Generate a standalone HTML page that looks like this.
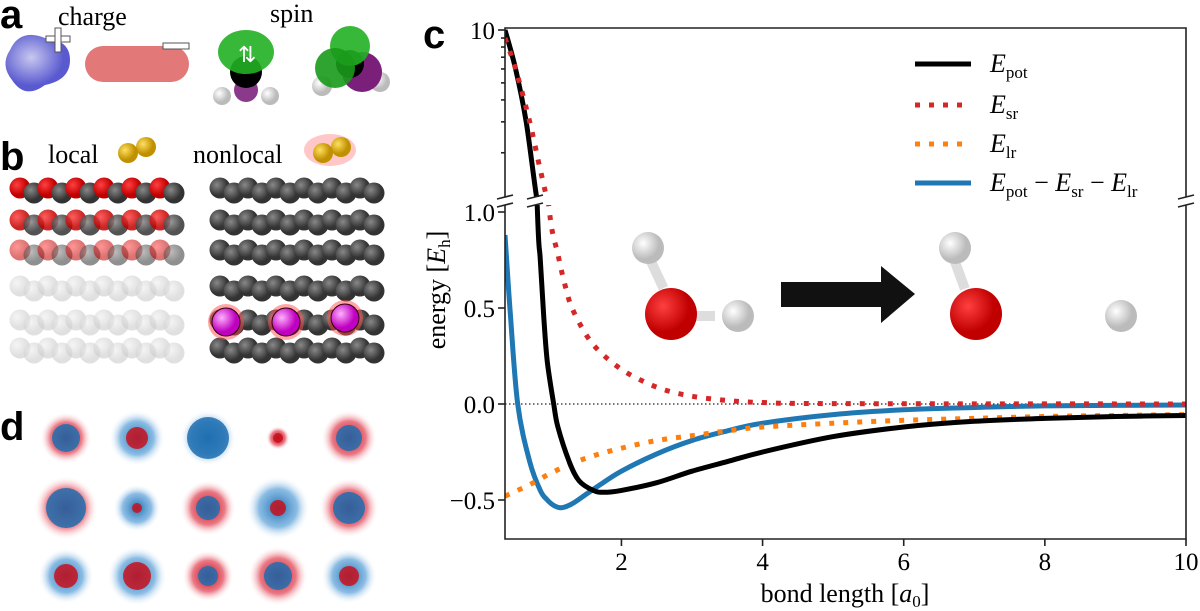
<!DOCTYPE html>
<html><head><meta charset="utf-8"><style>
html,body{margin:0;padding:0;background:#fff;width:1200px;height:611px;overflow:hidden}
svg{display:block}
.lbl{font-family:"Liberation Sans",sans-serif;font-weight:bold;font-size:40px}
</style></head><body>
<svg width="1200" height="611" viewBox="0 0 1200 611">
<defs>
 <radialGradient id="gBlue" cx="40%" cy="40%"><stop offset="0" stop-color="#c8c8f0"/><stop offset="1" stop-color="#5a5ad0"/></radialGradient>
 <radialGradient id="gGrey" cx="35%" cy="35%"><stop offset="0" stop-color="#888"/><stop offset="1" stop-color="#333"/></radialGradient>
 <radialGradient id="gLt" cx="35%" cy="35%"><stop offset="0" stop-color="#eee"/><stop offset="1" stop-color="#ccc"/></radialGradient>
 <radialGradient id="gRed" cx="35%" cy="35%"><stop offset="0" stop-color="#ff4040"/><stop offset="1" stop-color="#c00000"/></radialGradient>
 <radialGradient id="gWhite" cx="35%" cy="35%"><stop offset="0" stop-color="#fff"/><stop offset="1" stop-color="#bbb"/></radialGradient>
 <radialGradient id="gGold" cx="35%" cy="35%"><stop offset="0" stop-color="#ffe060"/><stop offset="1" stop-color="#c09000"/></radialGradient>
 <radialGradient id="gMag" cx="35%" cy="35%"><stop offset="0" stop-color="#ffb0ff"/><stop offset="1" stop-color="#c000c0"/></radialGradient>
 <radialGradient id="gB" ><stop offset="0" stop-color="#1f6fb0"/><stop offset="0.6" stop-color="#5aa0d8" stop-opacity="0.7"/><stop offset="1" stop-color="#fff" stop-opacity="0"/></radialGradient>
 <radialGradient id="gR" ><stop offset="0" stop-color="#c00010"/><stop offset="0.6" stop-color="#e04050" stop-opacity="0.7"/><stop offset="1" stop-color="#fff" stop-opacity="0"/></radialGradient>
 <clipPath id="clipLow"><rect x="505" y="205" width="681" height="334"/></clipPath>
 <clipPath id="clipUp"><rect x="505" y="28" width="681" height="169"/></clipPath>
</defs>

<!-- panel a -->
<text class="lbl" x="0" y="28">a</text>
<text font-family="Liberation Serif, serif" x="58" y="25" font-size="26">charge</text>
<text font-family="Liberation Serif, serif" x="270" y="22" font-size="26">spin</text>
<g>
 <path d="M10,50 Q20,28 45,38 Q70,40 70,60 Q70,80 45,85 Q25,100 12,80 Q0,65 10,50Z" fill="url(#gBlue)"/>
 <rect x="46" y="36" width="24" height="6" fill="#fff" stroke="#555"/><rect x="55" y="28" width="6" height="24" fill="#fff" stroke="#555"/>
</g>
<g>
 <rect x="85" y="46" width="104" height="36" rx="18" fill="#e27878"/>
 <rect x="163" y="43" width="26" height="6" fill="#fff" stroke="#555"/>
</g>
<g>
 <circle cx="222" cy="96" r="9" fill="url(#gWhite)"/><circle cx="270" cy="96" r="9" fill="url(#gWhite)"/>
 <circle cx="246" cy="90" r="12" fill="#8a3a8a"/>
 <circle cx="246" cy="72" r="16" fill="#000"/>
 <ellipse cx="246" cy="52" rx="28" ry="22" fill="#22b022" opacity="0.9"/>
 <text x="238" y="62" font-size="22" fill="#fff" font-family="DejaVu Sans, sans-serif">⇅</text>
</g>
<g>
 <circle cx="322" cy="86" r="10" fill="url(#gWhite)"/><circle cx="380" cy="82" r="10" fill="url(#gWhite)"/>
 <circle cx="362" cy="72" r="20" fill="#7a207a"/>
 <circle cx="350" cy="64" r="14" fill="#000"/>
 <circle cx="350" cy="46" r="20" fill="#22b022" opacity="0.9"/>
 <circle cx="335" cy="68" r="20" fill="#1a9a1a" opacity="0.9"/>
</g>

<!-- panel b -->
<text class="lbl" x="0" y="170">b</text>
<text font-family="Liberation Serif, serif" x="48" y="163" font-size="26">local</text>
<text font-family="Liberation Serif, serif" x="193" y="163" font-size="26">nonlocal</text>
<g><circle cx="146" cy="147" r="10" fill="url(#gGold)"/><circle cx="128" cy="153" r="10" fill="url(#gGold)"/></g>
<g><ellipse cx="330" cy="150" rx="26" ry="16" fill="#ff9090" opacity="0.5"/><circle cx="341" cy="147" r="10" fill="url(#gGold)"/><circle cx="323" cy="153" r="10" fill="url(#gGold)"/></g>
<g id="layers"></g>

<!-- panel d -->
<text class="lbl" x="0" y="440">d</text>
<g id="orbitals"></g>

<!-- panel c -->
<text class="lbl" x="423" y="48">c</text>
<g id="chart"></g>
</svg>
<script>
const NS='http://www.w3.org/2000/svg';
const SERIF='Liberation Serif, serif';
function mk(tag,attrs,parent){const e=document.createElementNS(NS,tag);for(const k in attrs)e.setAttribute(k,attrs[k]);parent.appendChild(e);return e;}

// ---- panel b layers ----
const L=document.getElementById('layers');
const layerY=[190,222,252,288,322,350];
const localFill=['url(#gRed)','url(#gRed)','url(#gRed)','url(#gLt)','url(#gLt)','url(#gLt)'];
const localOp=[1,0.85,0.55,0.6,0.6,0.6];
layerY.forEach((y,i)=>{
 for(let k=0;k<12;k++){
  const c1=mk('circle',{cx:20+k*14,cy:y+(k%2?3:-2),r:10.5,fill:(k%2&&i<3)?'url(#gGrey)':localFill[i],opacity:localOp[i]},L);
  
  
  const c2=mk('circle',{cx:220+k*14,cy:y+(k%2?3:-2),r:10.5,fill:'url(#gGrey)'},L);
  
  
 }
});
[[226,322],[286,322],[345,318]].forEach(p=>{
 mk('circle',{cx:p[0],cy:p[1],r:18,fill:'#ff5050',opacity:0.5},L);
 const m=mk('circle',{cx:p[0],cy:p[1],r:14,fill:'url(#gMag)',stroke:'#300',"stroke-width":1},L);
 
 
});

// ---- panel d orbitals ----
const O=document.getElementById('orbitals');
const colX=[66,137,208,278,349], rowY=[438,508,576];
const orbs=[['R',22,'B',14],['B',24,'R',11],['B',24,'B',21],['R',8,'R',5],['R',24,'B',13],
 ['R',28,'B',20],['B',20,'R',5],['R',24,'B',12],['B',28,'R',8],['R',26,'B',16],
 ['B',24,'R',12],['B',26,'R',14],['R',22,'B',10],['R',26,'B',14],['B',24,'R',10]];
orbs.forEach((o,i)=>{
 const cx=colX[i%5], cy=rowY[Math.floor(i/5)];
 const g=mk('g',{},O);
 
 
 mk('circle',{cx:cx,cy:cy,r:o[1]+4,fill:o[0]=='R'?'url(#gR)':'url(#gB)'},g);
 mk('circle',{cx:cx,cy:cy,r:o[3],fill:o[2]=='R'?'#c8101c':'#1f6fb0',opacity:0.85},g);
});

// ---- panel c chart ----
const xEpot=[0.35,0.5,0.65,0.8,0.85,0.9,0.95,1.04,1.1,1.26,1.4,1.6,1.75,2.0,2.5,3.0,3.5,4.0,5.0,6.0,7.0,8.0,9.0,10.0];
const yEpot=[10,6,3,1.1,0.75,0.45,0.22,0.0,-0.12,-0.3,-0.4,-0.45,-0.46,-0.45,-0.41,-0.35,-0.3,-0.25,-0.17,-0.12,-0.09,-0.075,-0.065,-0.06];
const xEsr=[0.35,0.5,0.7,0.85,0.98,1.1,1.2,1.3,1.5,1.7,2.0,2.3,2.6,3.0,3.5,4.0,5.0,10.0];
const yEsr=[9,6,3,1.6,1.0,0.78,0.62,0.5,0.36,0.27,0.18,0.12,0.075,0.04,0.018,0.008,0.002,0];
const xElr=[0.35,0.7,1.0,1.3,1.6,2.0,2.5,3.0,3.5,4.0,5.0,6.0,7.0,8.0,9.0,10.0];
const yElr=[-0.48,-0.42,-0.36,-0.31,-0.27,-0.23,-0.19,-0.165,-0.14,-0.12,-0.1,-0.085,-0.075,-0.065,-0.06,-0.055];
const xRes=[0.35,0.42,0.53,0.7,0.85,0.95,1.05,1.15,1.3,1.5,1.7,2.0,2.5,3.0,3.5,4.0,5.0,6.0,7.0,8.0,10.0];
const yRes=[0.88,0.5,0.0,-0.3,-0.45,-0.5,-0.53,-0.54,-0.52,-0.47,-0.42,-0.35,-0.26,-0.19,-0.14,-0.1,-0.055,-0.03,-0.018,-0.01,-0.005];
const xTicks=[2,4,6,8,10];
const yTicksLow=[-0.5,0.0,0.5,1.0];
const yTickLabels=['\u22120.5','0.0','0.5','1.0'];

const X0=505,X1=1186,XMIN=0.35,XMAX=10;
function sx(v){return X0+(v-XMIN)/(XMAX-XMIN)*(X1-X0);}
function syLow(v){return 404-192*v;}
function syUp(v){if(v<1.05)return 205;return 197-(Math.log(v)-Math.log(1.12))/(Math.log(10)-Math.log(1.12))*167;}

const C=document.getElementById('chart');
const zl=mk('line',{x1:X0,x2:X1,y1:syLow(0),y2:syLow(0),stroke:'#222','stroke-width':1.3,'stroke-dasharray':'1.5 2.5'},C);



// molecule illustration
const mol=mk('g',{},C);


mk('rect',{x:650,y:250,width:10,height:40,fill:'#ddd',transform:'rotate(-25 655 270)'},mol);
mk('rect',{x:675,y:311,width:40,height:10,fill:'#ddd'},mol);
mk('circle',{cx:648,cy:248,r:16,fill:'url(#gWhite)'},mol);
mk('circle',{cx:738,cy:316,r:16,fill:'url(#gWhite)'},mol);
mk('circle',{cx:671,cy:314,r:26,fill:'url(#gRed)'},mol);
mk('polygon',{points:'781,282 881,282 881,266 915,294 881,323 881,307 781,307',fill:'#111'},mol);
mk('rect',{x:953,y:250,width:10,height:40,fill:'#ddd',transform:'rotate(-20 958 270)'},mol);
mk('circle',{cx:955,cy:248,r:16,fill:'url(#gWhite)'},mol);
mk('circle',{cx:976,cy:314,r:26,fill:'url(#gRed)'},mol);
mk('circle',{cx:1121,cy:316,r:16,fill:'url(#gWhite)'},mol);

// smooth path (monotone-ish Catmull-Rom) through data points
function pathFor(xs,ys,f){
 const P=xs.map((x,i)=>[sx(x),f(ys[i])]);
 let d='M'+P[0][0].toFixed(1)+','+P[0][1].toFixed(1);
 for(let i=0;i<P.length-1;i++){
  const p0=P[i-1]||P[i],p1=P[i],p2=P[i+1],p3=P[i+2]||P[i+1];
  const t=1/6;
  const c1=[p1[0]+(p2[0]-p0[0])*t,p1[1]+(p2[1]-p0[1])*t];
  const c2=[p2[0]-(p3[0]-p1[0])*t,p2[1]-(p3[1]-p1[1])*t];
  c1[0]=Math.min(Math.max(c1[0],p1[0]),p2[0]);c2[0]=Math.min(Math.max(c2[0],p1[0]),p2[0]);
  d+='C'+c1[0].toFixed(1)+','+c1[1].toFixed(1)+' '+c2[0].toFixed(1)+','+c2[1].toFixed(1)+' '+p2[0].toFixed(1)+','+p2[1].toFixed(1);
 }
 return d;
}
const series=[
 {x:xRes,y:yRes,c:'#1f77b4',d:null,n:'series-residual'},
 {x:xElr,y:yElr,c:'#ff7f0e',d:'5 9',n:'series-elr'},
 {x:xEpot,y:yEpot,c:'#000',d:null,n:'series-epot'},
 {x:xEsr,y:yEsr,c:'#d62728',d:'5 9',n:'series-esr'}];
series.forEach(s=>{
 [['clipLow',syLow],['clipUp',syUp]].forEach(p=>{
  const a={d:pathFor(s.x,s.y,p[1]),fill:'none',stroke:s.c,'stroke-width':5,'clip-path':'url(#'+p[0]+')','stroke-linejoin':'round'};
  if(s.d)a['stroke-dasharray']=s.d;
  const e=mk('path',a,C);
  
  
 });
});

const ax=mk('g',{stroke:'#222','stroke-width':1.6,fill:'none'},C);


mk('path',{d:`M${X0},197 L${X0},28 L${X1},28 L${X1},197 M${X0},205 L${X0},539 L${X1},539 L${X1},205`},ax);
mk('path',{d:`M${X0-8},199 L${X0+8},195 M${X0-8},207 L${X0+8},203 M${X1-8},199 L${X1+8},195 M${X1-8},207 L${X1+8},203 M527,199 L543,195 M527,207 L543,203`},ax);
const upT=[10,9,8,7,6,5,4,3,2];
upT.forEach(v=>{mk('line',{x1:X0-(v==10?7:4),x2:X0,y1:syUp(v),y2:syUp(v)},ax);});
const t10=mk('text',{x:X0-10,y:syUp(10)+9,'text-anchor':'end','font-size':25,'font-family':SERIF,fill:'#000',stroke:'none'},C);
t10.textContent='10';


yTicksLow.forEach((v,i)=>{
 mk('line',{x1:X0-7,x2:X0,y1:syLow(v),y2:syLow(v)},ax);
 const t=mk('text',{x:X0-10,y:syLow(v)+9,'text-anchor':'end','font-size':25,'font-family':SERIF,fill:'#000',stroke:'none'},C);
 t.textContent=yTickLabels[i];
 
 
});
xTicks.forEach(v=>{
 mk('line',{x1:sx(v),x2:sx(v),y1:539,y2:546},ax);
 const t=mk('text',{x:sx(v),y:570,'text-anchor':'middle','font-size':25,'font-family':SERIF,fill:'#000'},C);
 t.textContent=String(v);
 
 
});
const xt=mk('text',{x:845,y:602,'text-anchor':'middle','font-size':26,'font-family':SERIF,fill:'#000'},C);
xt.innerHTML='bond length [<tspan font-style="italic">a</tspan><tspan font-size="17" dy="5">0</tspan><tspan dy="-5">]</tspan>';


const yt=mk('text',{x:0,y:0,'text-anchor':'middle','font-size':26,'font-family':SERIF,fill:'#000',transform:'translate(445,290) rotate(-90)'},C);
yt.innerHTML='energy [<tspan font-style="italic">E</tspan><tspan font-size="17" dy="5">h</tspan><tspan dy="-5">]</tspan>';



const legY=[64,105,144,183];
const legTxt=['<tspan font-style="italic">E</tspan><tspan font-size="17" dy="6">pot</tspan>',
 '<tspan font-style="italic">E</tspan><tspan font-size="17" dy="6">sr</tspan>',
 '<tspan font-style="italic">E</tspan><tspan font-size="17" dy="6">lr</tspan>',
 '<tspan font-style="italic">E</tspan><tspan font-size="17" dy="6">pot</tspan><tspan dy="-6"> − </tspan><tspan font-style="italic">E</tspan><tspan font-size="17" dy="6">sr</tspan><tspan dy="-6"> − </tspan><tspan font-style="italic">E</tspan><tspan font-size="17" dy="6">lr</tspan>'];
const legC=['#000','#d62728','#ff7f0e','#1f77b4'], legD=[null,'5 9','5 9',null];
legY.forEach((y,i)=>{
 const g=mk('g',{},C);
 
 
 const a={x1:915,x2:971,y1:y,y2:y,stroke:legC[i],'stroke-width':5};
 if(legD[i])a['stroke-dasharray']=legD[i];
 mk('line',a,g);
 const t=mk('text',{x:990,y:y+8,'font-size':26,'font-family':SERIF,fill:'#000'},g);
 t.innerHTML=legTxt[i];
});
</script>
</body></html>
